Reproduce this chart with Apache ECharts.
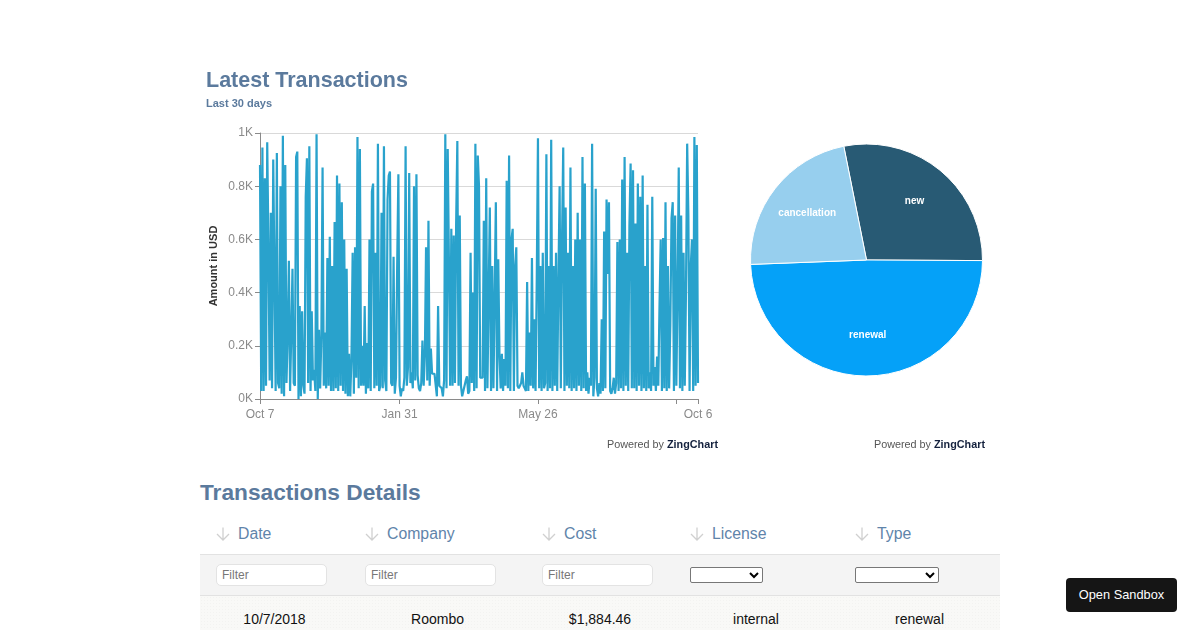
<!DOCTYPE html>
<html>
<head>
<meta charset="utf-8">
<title>Latest Transactions</title>
<script src="https://cdn.jsdelivr.net/npm/echarts@6/dist/echarts.min.js"></script>
<style>
html,body{margin:0;padding:0;background:#fff;overflow:hidden;width:1200px;height:630px;font-family:"Liberation Sans",Arial,sans-serif}
#main{position:absolute;left:0;top:0;width:1200px;height:460px}
.abs{position:absolute;white-space:nowrap}
.powered{font-size:10.8px;color:#555;top:437px;line-height:14px}
.powered b{color:#14213d}
h2{position:absolute;left:200px;top:478px;margin:0;font-size:22.7px;line-height:28px;color:#5b7a9d}
.head{top:524px;font-size:15.8px;line-height:20px;color:#5f84aa}
.arrow{top:527px;width:14px;height:14px}
#filters{position:absolute;left:200px;top:554px;width:800px;height:40px;background:#f4f4f4;border-top:1px solid #e2e2e2;border-bottom:1px solid #e2e2e2}
input{position:absolute;top:564px;height:22px;box-sizing:border-box;border:1px solid #e3e3e3;border-radius:5px;padding:0 5px;font:12px "Liberation Sans",Arial,sans-serif;background:#fff}
input::placeholder{color:#777}
select{position:absolute;top:567px;height:16px;box-sizing:border-box;background:#fff;border:1px solid #777;border-radius:2px}
#row{position:absolute;left:200px;top:596px;width:800px;height:34px;background:#f9f9f7 radial-gradient(#f3f3f1 0.5px,transparent 0.6px);background-size:3px 3px}
.cell{top:611px;font-size:14px;line-height:16px;color:#111;transform:translateX(-50%)}
#sandbox{position:absolute;left:1066px;top:578px;width:111px;height:34px;line-height:34px;text-align:center;background:#151515;color:#fff;border-radius:4px;font-size:12.8px}
</style>
</head>
<body>
<div id="main"></div>
<div class="abs powered" style="left:607px">Powered by <b>ZingChart</b></div>
<div class="abs powered" style="left:874px">Powered by <b>ZingChart</b></div>

<h2>Transactions Details</h2>
<div id="filters"></div>
<div id="row"></div>
<div id="table"></div>
<input style="left:216px;width:111px" placeholder="Filter">
<input style="left:365px;width:131px" placeholder="Filter">
<input style="left:542px;width:111px" placeholder="Filter">
<select style="left:690px;width:73px"></select>
<select style="left:855px;width:84px"></select>
<div id="sandbox">Open Sandbox</div>

<script>
// amounts in thousands of USD, one per day
var amounts = [
  .88,.03,.945,.03,.83,.05,.965,.58,.07,.70,
  .04,.90,.905,.03,.925,.06,.04,.80,.02,.99,
  .01,.88,.06,.24,.52,.03,.25,.49,.06,.05,
  .91,.93,0,.35,.01,.33,.05,.02,.76,.905,
  .06,.95,.03,.33,.07,.11,.03,.995,0,.26,
  .04,.24,.87,.05,.25,.04,.53,.05,.61,.03,
  .5,.03,.665,.04,.84,.03,.81,.05,.74,.03,
  .6,.02,.49,.01,.17,.01,.15,.55,.02,.57,
  .08,.985,.04,.94,.05,.2,.05,.35,.02,.21,
  .04,.6,.03,.78,.81,.04,.55,.05,.96,.03,
  .05,.70,.04,.95,.07,.03,.75,.84,.855,.06,
  .05,.535,.02,.08,.5,.845,.05,.01,.04,.03,
  .08,.95,.05,.12,.85,.06,.10,.04,.80,.07,
  .845,.09,.04,.03,.06,.22,.05,.16,.57,.07,
  .67,.05,.19,.095,.095,.095,.095,.01,.35,.05,
  .05,.04,.01,.07,.995,.04,.94,.52,.05,.64,
  .05,.615,.06,.66,.97,.05,.69,.05,.01,.03,
  .05,.07,.085,.02,.03,.55,.06,.40,.03,.96,
  .04,.915,.8,.08,.08,.08,.67,.03,.83,.04,
  .04,.72,.03,.5,.04,.38,.74,.03,.525,.17,
  .04,.17,.03,.15,.05,.82,.04,.915,.03,.6,
  .64,.03,.5,.57,.05,.04,.05,.06,.1,.05,
  .04,.03,.44,.03,.25,.05,.53,.04,.3,.03,
  .45,.98,.04,.5,.03,.55,.04,.06,.92,.03,
  .5,.04,.975,.03,.5,.05,.55,.03,.45,.8,
  .04,.6,.945,.03,.72,.05,.55,.04,.87,.03,
  .5,.04,.6,.03,.70,.05,.6,.03,.91,.04,
  .81,.03,.10,.02,.08,.05,.96,.01,.08,.79,
  .04,.01,.06,.02,.3,.03,.63,.04,.75,.47,
  .74,.03,.02,.04,.08,.02,.06,.59,.03,.6,
  .04,.825,.03,.91,.05,.55,.03,.65,.885,.04,
  .86,.04,.66,.03,.81,.05,.76,.03,.84,.04,
  .5,.03,.73,.04,.1,.03,.76,.05,.12,.03,
  .16,.05,.35,.6,.03,.605,.04,.74,.03,.5,
  .04,.28,.68,.74,.03,.69,.05,.4,.87,.04,
  .69,.03,.55,.05,.4,.96,.69,.03,.5,.6,
  .03,.985,.05,.955,.06
];
var pieNames = ['new','renewal','cancellation'];
var pieValues = [103,180,82];
var pieColors = ['#285a74','#05a1f8','#97cfee'];
var headLabels = ['Date','Company','Cost','License','Type'];
var headLefts = [238,387,564,712,877];
var rowCells = ['10/7/2018','Roombo','$1,884.46','internal','renewal'];
var cellCenters = [274.5,437.5,600,756,919.5];
var tickDays = [0,116,231,346,364];
var labelDays = [0,116,231,364];

// one date label per day, starting Oct 7
var months = ['Jan','Feb','Mar','Apr','May','Jun','Jul','Aug','Sep','Oct','Nov','Dec'];
var days = [];
for(var i=0;i<amounts.length;i++){
	var d = new Date(2018,9,7+i);
	days.push(months[d.getMonth()]+' '+d.getDate());
}

var arrowSvg = '<svg viewBox="0 0 14 14" fill="none" stroke="#d0d0d0" stroke-width="1.3">'+
	'<path d="M7 0.5V13M1 7l6 6 6-6"/></svg>';
var table = document.getElementById('table');
headLabels.forEach(function(t,i){
	table.insertAdjacentHTML('beforeend',
		'<div class="abs arrow" style="left:'+(headLefts[i]-22)+'px">'+arrowSvg+'</div>'+
		'<div class="abs head" style="left:'+headLefts[i]+'px">'+t+'</div>'+
		'<div class="abs cell" style="left:'+cellCenters[i]+'px">'+rowCells[i]+'</div>');
});

var pieData = pieNames.map(function(n,i){
	return {name:n,value:pieValues[i],itemStyle:{color:pieColors[i]}};
});

var mychart = echarts.init(document.getElementById('main'),null,{renderer:'canvas'});
var option = {
	animation:false,
	textStyle:{fontFamily:'"Liberation Sans",Arial,sans-serif'},
	title:{
		text:'Latest Transactions',
		subtext:'Last 30 days',
		left:206,
		top:70,
		itemGap:6,
		padding:0,
		textStyle:{fontSize:21.5,fontWeight:'bold',color:'#5b7a9d'},
		subtextStyle:{fontSize:11,fontWeight:'bold',color:'#5b7a9d'}
	},
	grid:{left:260,top:133,width:438,height:266,containLabel:false},
	xAxis:{
		type:'category',
		data:days,
		boundaryGap:false,
		axisLine:{lineStyle:{color:'#8a8a8a',width:1}},
		axisTick:{length:5,lineStyle:{color:'#8a8a8a'},interval:function(i){return tickDays.indexOf(i)>=0;}},
		axisLabel:{color:'#8a8a8a',fontSize:12,margin:10,interval:function(i){return labelDays.indexOf(i)>=0;}},
		splitLine:{show:false}
	},
	yAxis:{
		type:'value',
		min:0,
		max:1,
		interval:0.2,
		name:'Amount in USD',
		nameLocation:'middle',
		nameRotate:90,
		nameGap:41,
		nameTextStyle:{fontSize:11,fontWeight:'bold',color:'#333'},
		axisLine:{show:true,lineStyle:{color:'#8a8a8a'}},
		axisTick:{show:true,length:5,lineStyle:{color:'#8a8a8a'}},
		axisLabel:{color:'#8a8a8a',fontSize:12,margin:7,padding:[4,0,0,0],formatter:function(v){return v+'K';}},
		splitLine:{lineStyle:{color:'#d9d9d9'}}
	},
	series:[
		{
			name:'Amount',
			type:'line',
			data:amounts,
			showSymbol:false,
			sampling:'none',
			lineStyle:{color:'#29a2cc',width:2.2},
			itemStyle:{color:'#29a2cc'}
		},
		{
			type:'pie',
			center:[866.5,260],
			radius:[0,116],
			startAngle:101.3,
			data:pieData,
			silent:true,
			label:{show:false},
			labelLine:{show:false},
			itemStyle:{borderColor:'#fff',borderWidth:1}
		},
		{
			// invisible ring, only there to place the labels further out than the default
			type:'pie',
			center:[866.5,260],
			radius:[29,116],
			startAngle:101.3,
			data:pieNames.map(function(n,i){return {name:n,value:pieValues[i]};}),
			silent:true,
			itemStyle:{color:'rgba(0,0,0,0)'},
			label:{show:true,position:'inside',color:'#fff',fontSize:10,fontWeight:'bold',formatter:'{b}'},
			labelLine:{show:false}
		}
	]
};
mychart.setOption(option);
</script>
</body>
</html>
